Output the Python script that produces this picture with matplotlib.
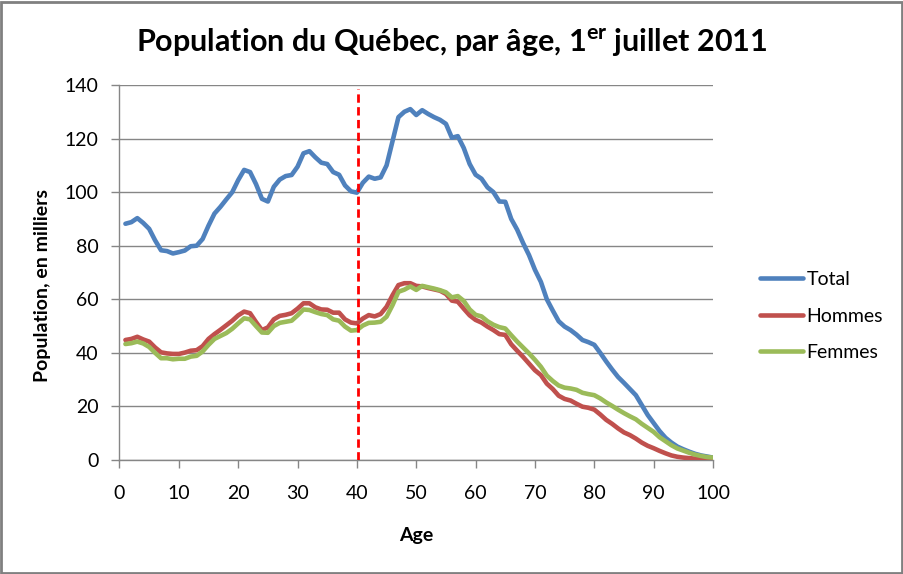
import numpy as np
import matplotlib

matplotlib.use("Agg")
import matplotlib.pyplot as plt  # noqa: E402
from matplotlib.patches import Rectangle  # noqa: E402

plt.rcParams["font.family"] = ["Lato", "DejaVu Sans"]
plt.rcParams["mathtext.fontset"] = "custom"
plt.rcParams["mathtext.rm"] = "Lato:bold"
plt.rcParams["mathtext.it"] = "Lato:bold"
plt.rcParams["mathtext.bf"] = "Lato:bold"

AGES = list(range(1, 101))

TOTAL = [
    88.2, 88.8, 90.3, 88.5, 86.3, 82.0, 78.3, 78.0, 77.1, 77.6,
    78.2, 79.8, 80.0, 82.5, 87.5, 92.0, 94.5, 97.3, 100.0, 104.5,
    108.3, 107.5, 103.0, 97.5, 96.5, 102.0, 104.7, 106.0, 106.4, 109.5,
    114.5, 115.3, 113.0, 111.0, 110.5, 107.5, 106.5, 102.5, 100.3, 99.8,
    103.5, 105.8, 105.0, 105.5, 110.0, 119.0, 128.0, 130.0, 131.0, 128.8,
    130.6, 129.2, 128.0, 127.0, 125.5, 120.3, 120.9, 116.5, 110.5, 106.5,
    105.0, 101.8, 100.0, 96.5, 96.4, 90.0, 86.0, 81.0, 76.5, 71.0,
    66.5, 60.0, 55.8, 51.8, 49.8, 48.5, 46.8, 44.8, 44.0, 43.0,
    40.0, 36.8, 33.8, 31.0, 28.8, 26.5, 24.2, 20.5, 16.8, 13.8,
    10.8, 8.3, 6.5, 5.0, 4.0, 3.1, 2.3, 1.7, 1.3, 0.9,
]

HOMMES = [
    44.8, 45.2, 46.0, 45.0, 44.2, 42.0, 40.2, 39.8, 39.6, 39.6,
    40.1, 40.8, 41.0, 42.5, 45.2, 47.0, 48.6, 50.3, 52.0, 54.0,
    55.4, 54.8, 51.5, 48.5, 49.5, 52.5, 53.8, 54.2, 54.8, 56.5,
    58.5, 58.5, 57.0, 56.2, 56.1, 55.0, 55.0, 52.5, 51.3, 51.0,
    52.8, 54.1, 53.6, 54.5, 57.2, 61.5, 65.3, 66.0, 66.0, 65.0,
    64.8, 64.2, 63.7, 63.2, 62.0, 59.5, 59.1, 56.5, 54.0, 52.3,
    51.3, 49.8, 48.5, 47.0, 46.7, 43.2, 40.8, 38.5, 36.0, 33.5,
    31.7, 28.5, 26.5, 24.0, 22.8, 22.2, 21.0, 19.9, 19.5, 18.8,
    17.0, 15.0, 13.5, 11.8, 10.3, 9.3, 8.0, 6.5, 5.3, 4.4,
    3.4, 2.5, 1.7, 1.2, 0.9, 0.7, 0.5, 0.4, 0.3, 0.2,
]

FEMMES = [
    43.3, 43.6, 44.2, 43.5, 42.2, 40.0, 38.0, 38.0, 37.6, 37.8,
    37.8, 38.6, 38.9, 40.5, 43.0, 45.2, 46.3, 47.4, 49.0, 51.0,
    52.9, 52.5, 50.0, 47.6, 47.5, 50.0, 51.2, 51.6, 52.0, 54.0,
    56.2, 56.0, 55.2, 54.5, 54.1, 52.5, 52.0, 49.8, 48.3, 48.5,
    50.2, 51.2, 51.3, 51.6, 53.5, 57.8, 62.8, 63.6, 64.8, 63.5,
    65.0, 64.5, 64.0, 63.4, 62.6, 60.7, 61.2, 59.4, 56.2, 54.2,
    53.6, 51.8, 50.5, 49.6, 49.1, 46.6, 44.2, 42.0, 39.8, 37.4,
    34.8, 31.5, 29.5, 27.8, 27.0, 26.7, 26.2, 25.1, 24.6, 24.2,
    23.0, 21.5, 20.2, 18.8, 17.5, 16.3, 15.2, 13.5, 12.0, 10.5,
    8.5, 7.0, 5.5, 4.3, 3.5, 2.7, 2.0, 1.5, 1.1, 0.9,
]

SERIES = [("Total", TOTAL), ("Hommes", HOMMES), ("Femmes", FEMMES)]
COLORS = {"Total": "#4F81BD", "Hommes": "#C0504D", "Femmes": "#9BBB59"}
AGE_MARK = 40.2

X_TICKS = list(range(0, 101, 10))
Y_TICKS = list(range(0, 141, 20))

W, H = 904, 574
GRID = "#868686"

fig = plt.figure(figsize=(W / 100, H / 100), dpi=100)
ax = fig.add_axes([119.5 / W, (H - 460) / H, (713 - 119.5) / W, (460 - 85) / H])

for name, values in SERIES:
    ax.plot(AGES, values, color=COLORS[name], linewidth=3.3, label=name,
            solid_joinstyle="round", solid_capstyle="round", zorder=3)

ax.axvline(AGE_MARK, ymin=0, ymax=(140 - 1.5) / 140, color="#FF0000",
           linewidth=2.0, linestyle=(0, (3, 1.6)), zorder=4)

ax.set_xlim(0, 100)
ax.set_ylim(0, 140)
ax.set_xticks(X_TICKS)
ax.set_yticks(Y_TICKS)
ax.tick_params(axis="both", direction="out", length=6, width=1, color=GRID,
               labelsize=14, labelcolor="black")
ax.tick_params(axis="x", pad=12)
ax.tick_params(axis="y", pad=9)
ax.grid(axis="y", color=GRID, linewidth=1.0)
ax.set_axisbelow(True)
for side in ("top", "right"):
    ax.spines[side].set_visible(False)
for side in ("left", "bottom"):
    ax.spines[side].set_color(GRID)
    ax.spines[side].set_linewidth(1.0)

ax.set_xlabel("Age", fontsize=14, fontweight="bold")
ax.set_ylabel("Population, en milliers", fontsize=14, fontweight="bold")
ax.xaxis.set_label_coords(0.5, (460 - 535) / 375, transform=ax.transAxes)
ax.yaxis.set_label_coords((42 - 119.5) / 593.5, (460 - 285) / 375, transform=ax.transAxes)
ax.xaxis.label.set_va("center")
ax.yaxis.label.set_va("center")

fig.text(452 / W, 1 - 42 / H, r"Population du Québec, par âge, 1$^{er}$ juillet 2011",
         fontsize=22, fontweight="bold", ha="center", va="center")

ax.legend(loc="center left", bbox_to_anchor=(760 / W, 1 - 316 / H),
          bbox_transform=fig.transFigure, frameon=False, fontsize=14,
          handlelength=2.2, handletextpad=0.2, labelspacing=1.0,
          borderpad=0, borderaxespad=0)

fig.patches.append(Rectangle((1 / W, 1 / H), (W - 3) / W, (H - 3) / H,
                             transform=fig.transFigure, fill=False,
                             edgecolor="#808080", linewidth=2.0))

fig.savefig("out.png", dpi=100)
